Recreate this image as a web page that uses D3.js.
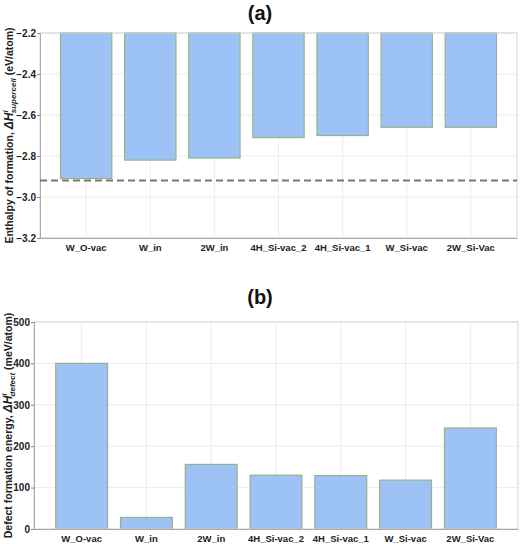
<!DOCTYPE html>
<html>
<head>
<meta charset="utf-8">
<script src="https://cdn.jsdelivr.net/npm/d3@7"></script>
<style>
  body { margin: 0; background: #fff; }
  text { font-family: "Liberation Sans", Arial, sans-serif; font-weight: bold; }
</style>
</head>
<body>
<div id="chart"></div>
<script>
// data
const categories = ["W_O-vac", "W_in", "2W_in", "4H_Si-vac_2", "4H_Si-vac_1", "W_Si-vac", "2W_Si-Vac"]
const enthalpyValues = [-2.91, -2.82, -2.81, -2.71, -2.70, -2.66, -2.66]
const referenceEnthalpy = -2.92
const defectValues = [400, 28, 156, 130, 129, 118, 244]
const enthalpyTicks = [-2.2, -2.4, -2.6, -2.8, -3.0, -3.2]
const defectTicks = [0, 100, 200, 300, 400, 500]

const width = 520
const height = 544
const barFill = "#9dc3f6"
const barStroke = "#9caf8c"
const gridColor = "#ececec"
const frameColor = "#d4d4d4"

const svg = d3.select("#chart").append("svg")
  .attr("width", width)
  .attr("height", height)

const fmt = d => d3.format(".1f")(d).replace("-", "\u2212")

function drawPanel(opts) {
  const { left, right, top, bottom, yDomain, ticks, tickFormat, values, title, titleY, label, sub, unit, labelX, paddingOuter } = opts

  const x = d3.scaleBand()
    .domain(categories)
    .range([left, right])
    .paddingInner(0.2)
    .paddingOuter(paddingOuter)

  const y = d3.scaleLinear()
    .domain(yDomain)
    .range([top, bottom])

  const g = svg.append("g")

  // grid
  g.selectAll(".hgrid").data(ticks).join("line")
    .attr("x1", left).attr("x2", right)
    .attr("y1", d => y(d)).attr("y2", d => y(d))
    .attr("stroke", gridColor)
  g.selectAll(".vgrid").data(categories).join("line")
    .attr("x1", d => x(d) + x.bandwidth() / 2)
    .attr("x2", d => x(d) + x.bandwidth() / 2)
    .attr("y1", top).attr("y2", bottom)
    .attr("stroke", gridColor)

  // bars (from the top of the domain for (a), from zero for (b))
  const base = opts.base
  g.selectAll(".bar").data(values).join("rect")
    .attr("x", (d, i) => x(categories[i]))
    .attr("width", x.bandwidth())
    .attr("y", d => Math.min(y(d), y(base)))
    .attr("height", d => Math.abs(y(d) - y(base)))
    .attr("fill", barFill)
    .attr("stroke", barStroke)
    .attr("stroke-width", 1.2)

  // frame
  g.append("rect")
    .attr("x", left).attr("y", top)
    .attr("width", right - left).attr("height", bottom - top)
    .attr("fill", "none")
    .attr("stroke", frameColor)

  // y axis
  const yAxis = g.append("g")
    .attr("transform", `translate(${left},0)`)
    .call(d3.axisLeft(y).tickValues(ticks).tickFormat(tickFormat).tickSize(3).tickPadding(1))
  yAxis.select(".domain").attr("stroke", "#aaa")
  yAxis.selectAll(".tick line").attr("stroke", "#888")
  yAxis.selectAll("text")
    .attr("font-size", 10)
    .attr("fill", "#222")

  // x axis
  const xAxis = g.append("g")
    .attr("transform", `translate(0,${bottom})`)
    .call(d3.axisBottom(x).tickSize(0).tickPadding(6))
  xAxis.select(".domain").attr("stroke", "#aaa")
  xAxis.selectAll("text")
    .attr("font-size", 9.5)
    .attr("fill", "#222")

  // title
  svg.append("text")
    .attr("x", 260)
    .attr("y", titleY)
    .attr("text-anchor", "middle")
    .attr("font-size", 20)
    .attr("fill", "#111")
    .text(title)

  // y label
  const cy = (top + bottom) / 2
  const lab = svg.append("text")
    .attr("transform", `translate(${labelX},${cy}) rotate(-90)`)
    .attr("text-anchor", "middle")
    .attr("font-size", 10.5)
    .attr("fill", "#222")
  lab.append("tspan").text(label)
  lab.append("tspan").attr("font-style", "italic").attr("font-size", 12).text("\u0394H")
  lab.append("tspan").attr("font-style", "italic").attr("font-size", 8).attr("dy", -5).text("i")
  lab.append("tspan").attr("font-style", "italic").attr("font-size", 8).attr("dx", -3).attr("dy", 8).text(sub)
  lab.append("tspan").attr("dy", -3).text(" " + unit)

  return { x, y, g }
}

const a = drawPanel({
  left: 40, right: 517, top: 33, bottom: 238,
  yDomain: [-2.2, -3.2], ticks: enthalpyTicks, tickFormat: fmt,
  values: enthalpyValues, base: -2.2, paddingOuter: 0.32,
  title: "(a)", titleY: 20,
  label: "Enthalpy of formation, ", sub: "supercell", unit: "(eV/atom)", labelX: 13
})

// reference dashed line
a.g.append("line")
  .attr("x1", 40).attr("x2", 517)
  .attr("y1", a.y(referenceEnthalpy)).attr("y2", a.y(referenceEnthalpy))
  .attr("stroke", "#777")
  .attr("stroke-width", 2)
  .attr("stroke-dasharray", "7 4")

drawPanel({
  left: 34, right: 518, top: 322, bottom: 529,
  yDomain: [500, 0], ticks: defectTicks, tickFormat: d3.format("d"),
  values: defectValues, base: 0, paddingOuter: 0.335,
  title: "(b)", titleY: 304,
  label: "Defect formation energy, ", sub: "defect", unit: "(meV/atom)", labelX: 12
})
</script>
</body>
</html>
